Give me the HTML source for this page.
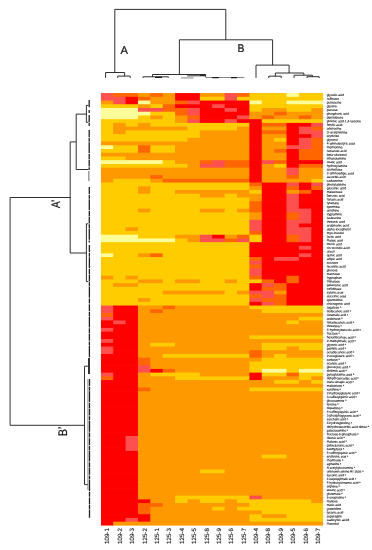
<!DOCTYPE html>
<html lang="en"><head><meta charset="utf-8"><title>Hierarchical clustering heatmap</title>
<style>html,body{margin:0;padding:0;background:#fff}body{width:372px;height:550px;overflow:hidden}svg{display:block}text{font-family:"Liberation Sans",sans-serif;text-rendering:geometricPrecision}</style></head><body>
<svg width="372" height="550" viewBox="0 0 372 550">
<rect width="372" height="550" fill="#fff"/>
<defs><clipPath id="hm"><rect x="100.8" y="93.1" width="222.20" height="432.33"/></clipPath></defs>
<g clip-path="url(#hm)">
<rect x="100.8" y="93.1" width="222.84" height="432.33" fill="#ff9900"/>
<rect x="100.80" y="93.10" width="12.98" height="4.33" fill="#ff5050"/>
<rect x="113.18" y="93.10" width="25.36" height="4.33" fill="#ff6600"/>
<rect x="137.94" y="93.10" width="12.98" height="4.33" fill="#ff9900"/>
<rect x="150.32" y="93.10" width="12.98" height="4.33" fill="#ff6600"/>
<rect x="162.70" y="93.10" width="12.98" height="4.33" fill="#ff9900"/>
<rect x="175.08" y="93.10" width="25.36" height="4.33" fill="#ff0000"/>
<rect x="199.84" y="93.10" width="25.36" height="4.33" fill="#ff9900"/>
<rect x="224.60" y="93.10" width="12.98" height="4.33" fill="#ff5050"/>
<rect x="236.98" y="93.10" width="12.98" height="4.33" fill="#ff6600"/>
<rect x="249.36" y="93.10" width="37.74" height="4.33" fill="#ffcc00"/>
<rect x="286.50" y="93.10" width="12.98" height="4.33" fill="#ffff99"/>
<rect x="298.88" y="93.10" width="25.36" height="4.33" fill="#ffcc00"/>
<rect x="100.80" y="96.83" width="25.36" height="4.33" fill="#ff5050"/>
<rect x="125.56" y="96.83" width="12.98" height="4.33" fill="#ff0000"/>
<rect x="137.94" y="96.83" width="12.98" height="4.33" fill="#ff6600"/>
<rect x="150.32" y="96.83" width="25.36" height="4.33" fill="#ff9900"/>
<rect x="175.08" y="96.83" width="25.36" height="4.33" fill="#ff0000"/>
<rect x="199.84" y="96.83" width="25.36" height="4.33" fill="#ffcc00"/>
<rect x="224.60" y="96.83" width="12.98" height="4.33" fill="#ff5050"/>
<rect x="236.98" y="96.83" width="87.26" height="4.33" fill="#ffcc00"/>
<rect x="100.80" y="100.55" width="12.98" height="4.33" fill="#ff9900"/>
<rect x="113.18" y="100.55" width="12.98" height="4.33" fill="#ff5050"/>
<rect x="125.56" y="100.55" width="12.98" height="4.33" fill="#ff0000"/>
<rect x="137.94" y="100.55" width="12.98" height="4.33" fill="#ffff99"/>
<rect x="150.32" y="100.55" width="25.36" height="4.33" fill="#ff9900"/>
<rect x="175.08" y="100.55" width="12.98" height="4.33" fill="#ff6600"/>
<rect x="187.46" y="100.55" width="12.98" height="4.33" fill="#ff5050"/>
<rect x="199.84" y="100.55" width="50.12" height="4.33" fill="#ff0000"/>
<rect x="249.36" y="100.55" width="12.98" height="4.33" fill="#ffff99"/>
<rect x="261.74" y="100.55" width="25.36" height="4.33" fill="#ffcc00"/>
<rect x="286.50" y="100.55" width="37.74" height="4.33" fill="#ffff99"/>
<rect x="100.80" y="104.28" width="37.74" height="4.33" fill="#ffcc00"/>
<rect x="137.94" y="104.28" width="12.98" height="4.33" fill="#ff9900"/>
<rect x="150.32" y="104.28" width="12.98" height="4.33" fill="#ffcc00"/>
<rect x="162.70" y="104.28" width="12.98" height="4.33" fill="#ff6600"/>
<rect x="175.08" y="104.28" width="37.74" height="4.33" fill="#ff0000"/>
<rect x="212.22" y="104.28" width="12.98" height="4.33" fill="#ff5050"/>
<rect x="224.60" y="104.28" width="25.36" height="4.33" fill="#ff0000"/>
<rect x="249.36" y="104.28" width="74.88" height="4.33" fill="#ffcc00"/>
<rect x="100.80" y="108.01" width="37.74" height="4.33" fill="#ffff99"/>
<rect x="137.94" y="108.01" width="25.36" height="4.33" fill="#ff5050"/>
<rect x="162.70" y="108.01" width="25.36" height="4.33" fill="#ff6600"/>
<rect x="187.46" y="108.01" width="12.98" height="4.33" fill="#ff5050"/>
<rect x="199.84" y="108.01" width="25.36" height="4.33" fill="#ff0000"/>
<rect x="224.60" y="108.01" width="12.98" height="4.33" fill="#ff5050"/>
<rect x="236.98" y="108.01" width="12.98" height="4.33" fill="#ff0000"/>
<rect x="249.36" y="108.01" width="12.98" height="4.33" fill="#ffcc00"/>
<rect x="261.74" y="108.01" width="25.36" height="4.33" fill="#ff9900"/>
<rect x="286.50" y="108.01" width="25.36" height="4.33" fill="#ffcc00"/>
<rect x="311.26" y="108.01" width="12.98" height="4.33" fill="#ff9900"/>
<rect x="100.80" y="111.73" width="50.12" height="4.33" fill="#ffff99"/>
<rect x="150.32" y="111.73" width="25.36" height="4.33" fill="#ffcc00"/>
<rect x="175.08" y="111.73" width="12.98" height="4.33" fill="#ff6600"/>
<rect x="187.46" y="111.73" width="12.98" height="4.33" fill="#ff5050"/>
<rect x="199.84" y="111.73" width="50.12" height="4.33" fill="#ff0000"/>
<rect x="249.36" y="111.73" width="25.36" height="4.33" fill="#ff9900"/>
<rect x="274.12" y="111.73" width="12.98" height="4.33" fill="#ff6600"/>
<rect x="286.50" y="111.73" width="37.74" height="4.33" fill="#ff9900"/>
<rect x="100.80" y="115.46" width="37.74" height="4.33" fill="#ffff99"/>
<rect x="137.94" y="115.46" width="12.98" height="4.33" fill="#ffcc00"/>
<rect x="150.32" y="115.46" width="12.98" height="4.33" fill="#ff9900"/>
<rect x="162.70" y="115.46" width="12.98" height="4.33" fill="#ffcc00"/>
<rect x="175.08" y="115.46" width="12.98" height="4.33" fill="#ff9900"/>
<rect x="187.46" y="115.46" width="12.98" height="4.33" fill="#ff6600"/>
<rect x="199.84" y="115.46" width="37.74" height="4.33" fill="#ff0000"/>
<rect x="236.98" y="115.46" width="12.98" height="4.33" fill="#ff5050"/>
<rect x="249.36" y="115.46" width="12.98" height="4.33" fill="#ff9900"/>
<rect x="261.74" y="115.46" width="12.98" height="4.33" fill="#ff6600"/>
<rect x="274.12" y="115.46" width="25.36" height="4.33" fill="#ff9900"/>
<rect x="298.88" y="115.46" width="12.98" height="4.33" fill="#ff6600"/>
<rect x="311.26" y="115.46" width="12.98" height="4.33" fill="#ff9900"/>
<rect x="100.80" y="119.19" width="74.88" height="4.33" fill="#ffcc00"/>
<rect x="175.08" y="119.19" width="12.98" height="4.33" fill="#ff9900"/>
<rect x="187.46" y="119.19" width="12.98" height="4.33" fill="#ff5050"/>
<rect x="199.84" y="119.19" width="25.36" height="4.33" fill="#ff0000"/>
<rect x="224.60" y="119.19" width="12.98" height="4.33" fill="#ff5050"/>
<rect x="236.98" y="119.19" width="25.36" height="4.33" fill="#ff0000"/>
<rect x="261.74" y="119.19" width="62.50" height="4.33" fill="#ffcc00"/>
<rect x="100.80" y="122.92" width="12.98" height="4.33" fill="#ffcc00"/>
<rect x="113.18" y="122.92" width="12.98" height="4.33" fill="#ff9900"/>
<rect x="125.56" y="122.92" width="12.98" height="4.33" fill="#ffcc00"/>
<rect x="137.94" y="122.92" width="12.98" height="4.33" fill="#ff9900"/>
<rect x="150.32" y="122.92" width="99.64" height="4.33" fill="#ffcc00"/>
<rect x="249.36" y="122.92" width="12.98" height="4.33" fill="#ff0000"/>
<rect x="261.74" y="122.92" width="25.36" height="4.33" fill="#ff6600"/>
<rect x="286.50" y="122.92" width="25.36" height="4.33" fill="#ff0000"/>
<rect x="311.26" y="122.92" width="12.98" height="4.33" fill="#ff5050"/>
<rect x="100.80" y="126.64" width="12.98" height="4.33" fill="#ffcc00"/>
<rect x="113.18" y="126.64" width="74.88" height="4.33" fill="#ff9900"/>
<rect x="187.46" y="126.64" width="50.12" height="4.33" fill="#ffcc00"/>
<rect x="236.98" y="126.64" width="12.98" height="4.33" fill="#ff9900"/>
<rect x="249.36" y="126.64" width="12.98" height="4.33" fill="#ff0000"/>
<rect x="261.74" y="126.64" width="25.36" height="4.33" fill="#ff9900"/>
<rect x="286.50" y="126.64" width="12.98" height="4.33" fill="#ff0000"/>
<rect x="298.88" y="126.64" width="12.98" height="4.33" fill="#ff5050"/>
<rect x="311.26" y="126.64" width="12.98" height="4.33" fill="#ff6600"/>
<rect x="100.80" y="130.37" width="12.98" height="4.33" fill="#ffcc00"/>
<rect x="113.18" y="130.37" width="12.98" height="4.33" fill="#ff9900"/>
<rect x="125.56" y="130.37" width="74.88" height="4.33" fill="#ffcc00"/>
<rect x="199.84" y="130.37" width="50.12" height="4.33" fill="#ff9900"/>
<rect x="249.36" y="130.37" width="12.98" height="4.33" fill="#ff0000"/>
<rect x="261.74" y="130.37" width="25.36" height="4.33" fill="#ff6600"/>
<rect x="286.50" y="130.37" width="12.98" height="4.33" fill="#ff0000"/>
<rect x="298.88" y="130.37" width="25.36" height="4.33" fill="#ff5050"/>
<rect x="100.80" y="134.10" width="99.64" height="4.33" fill="#ffcc00"/>
<rect x="199.84" y="134.10" width="50.12" height="4.33" fill="#ff9900"/>
<rect x="249.36" y="134.10" width="12.98" height="4.33" fill="#ff0000"/>
<rect x="261.74" y="134.10" width="25.36" height="4.33" fill="#ff9900"/>
<rect x="286.50" y="134.10" width="25.36" height="4.33" fill="#ff0000"/>
<rect x="311.26" y="134.10" width="12.98" height="4.33" fill="#ff5050"/>
<rect x="100.80" y="137.82" width="87.26" height="4.33" fill="#ffcc00"/>
<rect x="187.46" y="137.82" width="62.50" height="4.33" fill="#ff9900"/>
<rect x="249.36" y="137.82" width="12.98" height="4.33" fill="#ff0000"/>
<rect x="261.74" y="137.82" width="12.98" height="4.33" fill="#ff9900"/>
<rect x="274.12" y="137.82" width="12.98" height="4.33" fill="#ffcc00"/>
<rect x="286.50" y="137.82" width="12.98" height="4.33" fill="#ff0000"/>
<rect x="298.88" y="137.82" width="12.98" height="4.33" fill="#ff5050"/>
<rect x="311.26" y="137.82" width="12.98" height="4.33" fill="#ff6600"/>
<rect x="100.80" y="141.55" width="149.16" height="4.33" fill="#ff9900"/>
<rect x="249.36" y="141.55" width="12.98" height="4.33" fill="#ff0000"/>
<rect x="261.74" y="141.55" width="25.36" height="4.33" fill="#ff9900"/>
<rect x="286.50" y="141.55" width="12.98" height="4.33" fill="#ff0000"/>
<rect x="298.88" y="141.55" width="12.98" height="4.33" fill="#ff5050"/>
<rect x="311.26" y="141.55" width="12.98" height="4.33" fill="#ff6600"/>
<rect x="100.80" y="145.28" width="12.98" height="4.33" fill="#ffff99"/>
<rect x="113.18" y="145.28" width="25.36" height="4.33" fill="#ffcc00"/>
<rect x="137.94" y="145.28" width="12.98" height="4.33" fill="#ff6600"/>
<rect x="150.32" y="145.28" width="25.36" height="4.33" fill="#ffcc00"/>
<rect x="175.08" y="145.28" width="74.88" height="4.33" fill="#ff9900"/>
<rect x="249.36" y="145.28" width="12.98" height="4.33" fill="#ff0000"/>
<rect x="261.74" y="145.28" width="25.36" height="4.33" fill="#ff9900"/>
<rect x="286.50" y="145.28" width="25.36" height="4.33" fill="#ff5050"/>
<rect x="311.26" y="145.28" width="12.98" height="4.33" fill="#ff6600"/>
<rect x="100.80" y="149.00" width="37.74" height="4.33" fill="#ffcc00"/>
<rect x="137.94" y="149.00" width="12.98" height="4.33" fill="#ff6600"/>
<rect x="150.32" y="149.00" width="25.36" height="4.33" fill="#ffcc00"/>
<rect x="175.08" y="149.00" width="74.88" height="4.33" fill="#ff9900"/>
<rect x="249.36" y="149.00" width="12.98" height="4.33" fill="#ff0000"/>
<rect x="261.74" y="149.00" width="12.98" height="4.33" fill="#ff9900"/>
<rect x="274.12" y="149.00" width="12.98" height="4.33" fill="#ff6600"/>
<rect x="286.50" y="149.00" width="12.98" height="4.33" fill="#ff0000"/>
<rect x="298.88" y="149.00" width="25.36" height="4.33" fill="#ff6600"/>
<rect x="100.80" y="152.73" width="149.16" height="4.33" fill="#ff9900"/>
<rect x="249.36" y="152.73" width="12.98" height="4.33" fill="#ff0000"/>
<rect x="261.74" y="152.73" width="25.36" height="4.33" fill="#ff9900"/>
<rect x="286.50" y="152.73" width="12.98" height="4.33" fill="#ff0000"/>
<rect x="298.88" y="152.73" width="25.36" height="4.33" fill="#ff6600"/>
<rect x="100.80" y="156.46" width="25.36" height="4.33" fill="#ffcc00"/>
<rect x="125.56" y="156.46" width="124.40" height="4.33" fill="#ff9900"/>
<rect x="249.36" y="156.46" width="12.98" height="4.33" fill="#ff0000"/>
<rect x="261.74" y="156.46" width="25.36" height="4.33" fill="#ff9900"/>
<rect x="286.50" y="156.46" width="12.98" height="4.33" fill="#ff0000"/>
<rect x="298.88" y="156.46" width="25.36" height="4.33" fill="#ff6600"/>
<rect x="100.80" y="160.19" width="62.50" height="4.33" fill="#ffff99"/>
<rect x="162.70" y="160.19" width="12.98" height="4.33" fill="#ffcc00"/>
<rect x="175.08" y="160.19" width="25.36" height="4.33" fill="#ff9900"/>
<rect x="199.84" y="160.19" width="12.98" height="4.33" fill="#ff6600"/>
<rect x="212.22" y="160.19" width="12.98" height="4.33" fill="#ff5050"/>
<rect x="224.60" y="160.19" width="25.36" height="4.33" fill="#ff6600"/>
<rect x="249.36" y="160.19" width="12.98" height="4.33" fill="#ff0000"/>
<rect x="261.74" y="160.19" width="12.98" height="4.33" fill="#ff5050"/>
<rect x="274.12" y="160.19" width="12.98" height="4.33" fill="#ff6600"/>
<rect x="286.50" y="160.19" width="37.74" height="4.33" fill="#ff0000"/>
<rect x="100.80" y="163.91" width="87.26" height="4.33" fill="#ffcc00"/>
<rect x="187.46" y="163.91" width="12.98" height="4.33" fill="#ff9900"/>
<rect x="199.84" y="163.91" width="25.36" height="4.33" fill="#ff5050"/>
<rect x="224.60" y="163.91" width="25.36" height="4.33" fill="#ff6600"/>
<rect x="249.36" y="163.91" width="12.98" height="4.33" fill="#ff0000"/>
<rect x="261.74" y="163.91" width="12.98" height="4.33" fill="#ff9900"/>
<rect x="274.12" y="163.91" width="12.98" height="4.33" fill="#ffcc00"/>
<rect x="286.50" y="163.91" width="12.98" height="4.33" fill="#ff0000"/>
<rect x="298.88" y="163.91" width="25.36" height="4.33" fill="#ff6600"/>
<rect x="100.80" y="167.64" width="149.16" height="4.33" fill="#ff9900"/>
<rect x="249.36" y="167.64" width="12.98" height="4.33" fill="#ff0000"/>
<rect x="261.74" y="167.64" width="25.36" height="4.33" fill="#ff9900"/>
<rect x="286.50" y="167.64" width="12.98" height="4.33" fill="#ff5050"/>
<rect x="298.88" y="167.64" width="25.36" height="4.33" fill="#ff9900"/>
<rect x="100.80" y="171.37" width="149.16" height="4.33" fill="#ff9900"/>
<rect x="249.36" y="171.37" width="12.98" height="4.33" fill="#ff0000"/>
<rect x="261.74" y="171.37" width="25.36" height="4.33" fill="#ff9900"/>
<rect x="286.50" y="171.37" width="12.98" height="4.33" fill="#ff5050"/>
<rect x="298.88" y="171.37" width="25.36" height="4.33" fill="#ff9900"/>
<rect x="100.80" y="175.09" width="50.12" height="4.33" fill="#ff9900"/>
<rect x="150.32" y="175.09" width="12.98" height="4.33" fill="#ff6600"/>
<rect x="162.70" y="175.09" width="87.26" height="4.33" fill="#ff9900"/>
<rect x="249.36" y="175.09" width="12.98" height="4.33" fill="#ff0000"/>
<rect x="261.74" y="175.09" width="25.36" height="4.33" fill="#ff9900"/>
<rect x="286.50" y="175.09" width="12.98" height="4.33" fill="#ff6600"/>
<rect x="298.88" y="175.09" width="25.36" height="4.33" fill="#ff9900"/>
<rect x="100.80" y="178.82" width="12.98" height="4.33" fill="#ff9900"/>
<rect x="113.18" y="178.82" width="37.74" height="4.33" fill="#ffcc00"/>
<rect x="150.32" y="178.82" width="12.98" height="4.33" fill="#ff9900"/>
<rect x="162.70" y="178.82" width="87.26" height="4.33" fill="#ff6600"/>
<rect x="249.36" y="178.82" width="12.98" height="4.33" fill="#ff0000"/>
<rect x="261.74" y="178.82" width="50.12" height="4.33" fill="#ff9900"/>
<rect x="311.26" y="178.82" width="12.98" height="4.33" fill="#ffcc00"/>
<rect x="100.80" y="182.55" width="149.16" height="4.33" fill="#ffcc00"/>
<rect x="249.36" y="182.55" width="12.98" height="4.33" fill="#ff6600"/>
<rect x="261.74" y="182.55" width="25.36" height="4.33" fill="#ff0000"/>
<rect x="286.50" y="182.55" width="12.98" height="4.33" fill="#ff5050"/>
<rect x="298.88" y="182.55" width="12.98" height="4.33" fill="#ff0000"/>
<rect x="311.26" y="182.55" width="12.98" height="4.33" fill="#ff5050"/>
<rect x="100.80" y="186.27" width="37.74" height="4.33" fill="#ffcc00"/>
<rect x="137.94" y="186.27" width="12.98" height="4.33" fill="#ff9900"/>
<rect x="150.32" y="186.27" width="99.64" height="4.33" fill="#ffcc00"/>
<rect x="249.36" y="186.27" width="12.98" height="4.33" fill="#ff9900"/>
<rect x="261.74" y="186.27" width="25.36" height="4.33" fill="#ff0000"/>
<rect x="286.50" y="186.27" width="12.98" height="4.33" fill="#ff6600"/>
<rect x="298.88" y="186.27" width="12.98" height="4.33" fill="#ff0000"/>
<rect x="311.26" y="186.27" width="12.98" height="4.33" fill="#ff6600"/>
<rect x="100.80" y="190.00" width="37.74" height="4.33" fill="#ffcc00"/>
<rect x="137.94" y="190.00" width="12.98" height="4.33" fill="#ff9900"/>
<rect x="150.32" y="190.00" width="25.36" height="4.33" fill="#ffcc00"/>
<rect x="175.08" y="190.00" width="74.88" height="4.33" fill="#ff9900"/>
<rect x="249.36" y="190.00" width="12.98" height="4.33" fill="#ffcc00"/>
<rect x="261.74" y="190.00" width="25.36" height="4.33" fill="#ff0000"/>
<rect x="286.50" y="190.00" width="12.98" height="4.33" fill="#ff9900"/>
<rect x="298.88" y="190.00" width="12.98" height="4.33" fill="#ff6600"/>
<rect x="311.26" y="190.00" width="12.98" height="4.33" fill="#ff0000"/>
<rect x="100.80" y="193.73" width="99.64" height="4.33" fill="#ffcc00"/>
<rect x="199.84" y="193.73" width="25.36" height="4.33" fill="#ff9900"/>
<rect x="224.60" y="193.73" width="12.98" height="4.33" fill="#ffcc00"/>
<rect x="236.98" y="193.73" width="25.36" height="4.33" fill="#ff9900"/>
<rect x="261.74" y="193.73" width="25.36" height="4.33" fill="#ff0000"/>
<rect x="286.50" y="193.73" width="12.98" height="4.33" fill="#ff5050"/>
<rect x="298.88" y="193.73" width="25.36" height="4.33" fill="#ff0000"/>
<rect x="100.80" y="197.46" width="149.16" height="4.33" fill="#ffcc00"/>
<rect x="249.36" y="197.46" width="12.98" height="4.33" fill="#ff9900"/>
<rect x="261.74" y="197.46" width="25.36" height="4.33" fill="#ff0000"/>
<rect x="286.50" y="197.46" width="12.98" height="4.33" fill="#ff5050"/>
<rect x="298.88" y="197.46" width="25.36" height="4.33" fill="#ff0000"/>
<rect x="100.80" y="201.18" width="149.16" height="4.33" fill="#ffcc00"/>
<rect x="249.36" y="201.18" width="12.98" height="4.33" fill="#ff6600"/>
<rect x="261.74" y="201.18" width="25.36" height="4.33" fill="#ff0000"/>
<rect x="286.50" y="201.18" width="12.98" height="4.33" fill="#ff5050"/>
<rect x="298.88" y="201.18" width="25.36" height="4.33" fill="#ff0000"/>
<rect x="100.80" y="204.91" width="149.16" height="4.33" fill="#ffcc00"/>
<rect x="249.36" y="204.91" width="12.98" height="4.33" fill="#ff6600"/>
<rect x="261.74" y="204.91" width="25.36" height="4.33" fill="#ff0000"/>
<rect x="286.50" y="204.91" width="12.98" height="4.33" fill="#ff5050"/>
<rect x="298.88" y="204.91" width="25.36" height="4.33" fill="#ff0000"/>
<rect x="100.80" y="208.64" width="37.74" height="4.33" fill="#ffcc00"/>
<rect x="137.94" y="208.64" width="12.98" height="4.33" fill="#ff9900"/>
<rect x="150.32" y="208.64" width="50.12" height="4.33" fill="#ffcc00"/>
<rect x="199.84" y="208.64" width="25.36" height="4.33" fill="#ff9900"/>
<rect x="224.60" y="208.64" width="12.98" height="4.33" fill="#ffcc00"/>
<rect x="236.98" y="208.64" width="12.98" height="4.33" fill="#ff9900"/>
<rect x="249.36" y="208.64" width="12.98" height="4.33" fill="#ff6600"/>
<rect x="261.74" y="208.64" width="25.36" height="4.33" fill="#ff0000"/>
<rect x="286.50" y="208.64" width="25.36" height="4.33" fill="#ff5050"/>
<rect x="311.26" y="208.64" width="12.98" height="4.33" fill="#ff0000"/>
<rect x="100.80" y="212.36" width="149.16" height="4.33" fill="#ffcc00"/>
<rect x="249.36" y="212.36" width="12.98" height="4.33" fill="#ff9900"/>
<rect x="261.74" y="212.36" width="25.36" height="4.33" fill="#ff0000"/>
<rect x="286.50" y="212.36" width="12.98" height="4.33" fill="#ff6600"/>
<rect x="298.88" y="212.36" width="12.98" height="4.33" fill="#ff5050"/>
<rect x="311.26" y="212.36" width="12.98" height="4.33" fill="#ff0000"/>
<rect x="100.80" y="216.09" width="149.16" height="4.33" fill="#ffcc00"/>
<rect x="249.36" y="216.09" width="12.98" height="4.33" fill="#ff9900"/>
<rect x="261.74" y="216.09" width="25.36" height="4.33" fill="#ff0000"/>
<rect x="286.50" y="216.09" width="12.98" height="4.33" fill="#ff6600"/>
<rect x="298.88" y="216.09" width="12.98" height="4.33" fill="#ff5050"/>
<rect x="311.26" y="216.09" width="12.98" height="4.33" fill="#ff0000"/>
<rect x="100.80" y="219.82" width="149.16" height="4.33" fill="#ffcc00"/>
<rect x="249.36" y="219.82" width="12.98" height="4.33" fill="#ff5050"/>
<rect x="261.74" y="219.82" width="25.36" height="4.33" fill="#ff0000"/>
<rect x="286.50" y="219.82" width="25.36" height="4.33" fill="#ff5050"/>
<rect x="311.26" y="219.82" width="12.98" height="4.33" fill="#ff0000"/>
<rect x="100.80" y="223.54" width="149.16" height="4.33" fill="#ffcc00"/>
<rect x="249.36" y="223.54" width="12.98" height="4.33" fill="#ff5050"/>
<rect x="261.74" y="223.54" width="25.36" height="4.33" fill="#ff0000"/>
<rect x="286.50" y="223.54" width="12.98" height="4.33" fill="#ff5050"/>
<rect x="298.88" y="223.54" width="25.36" height="4.33" fill="#ff0000"/>
<rect x="100.80" y="227.27" width="25.36" height="4.33" fill="#ffcc00"/>
<rect x="125.56" y="227.27" width="12.98" height="4.33" fill="#ff9900"/>
<rect x="137.94" y="227.27" width="112.02" height="4.33" fill="#ffcc00"/>
<rect x="249.36" y="227.27" width="12.98" height="4.33" fill="#ff5050"/>
<rect x="261.74" y="227.27" width="25.36" height="4.33" fill="#ff0000"/>
<rect x="286.50" y="227.27" width="25.36" height="4.33" fill="#ff5050"/>
<rect x="311.26" y="227.27" width="12.98" height="4.33" fill="#ff0000"/>
<rect x="100.80" y="231.00" width="149.16" height="4.33" fill="#ffcc00"/>
<rect x="249.36" y="231.00" width="12.98" height="4.33" fill="#ff6600"/>
<rect x="261.74" y="231.00" width="25.36" height="4.33" fill="#ff0000"/>
<rect x="286.50" y="231.00" width="25.36" height="4.33" fill="#ff5050"/>
<rect x="311.26" y="231.00" width="12.98" height="4.33" fill="#ff0000"/>
<rect x="100.80" y="234.73" width="37.74" height="4.33" fill="#ffff99"/>
<rect x="137.94" y="234.73" width="37.74" height="4.33" fill="#ffcc00"/>
<rect x="175.08" y="234.73" width="25.36" height="4.33" fill="#ff9900"/>
<rect x="199.84" y="234.73" width="12.98" height="4.33" fill="#ff5050"/>
<rect x="212.22" y="234.73" width="12.98" height="4.33" fill="#ff0000"/>
<rect x="224.60" y="234.73" width="12.98" height="4.33" fill="#ff9900"/>
<rect x="236.98" y="234.73" width="12.98" height="4.33" fill="#ff6600"/>
<rect x="249.36" y="234.73" width="12.98" height="4.33" fill="#ffcc00"/>
<rect x="261.74" y="234.73" width="25.36" height="4.33" fill="#ff0000"/>
<rect x="286.50" y="234.73" width="12.98" height="4.33" fill="#ff6600"/>
<rect x="298.88" y="234.73" width="12.98" height="4.33" fill="#ff5050"/>
<rect x="311.26" y="234.73" width="12.98" height="4.33" fill="#ff0000"/>
<rect x="100.80" y="238.45" width="74.88" height="4.33" fill="#ffff99"/>
<rect x="175.08" y="238.45" width="12.98" height="4.33" fill="#ffcc00"/>
<rect x="187.46" y="238.45" width="12.98" height="4.33" fill="#ff9900"/>
<rect x="199.84" y="238.45" width="25.36" height="4.33" fill="#ff5050"/>
<rect x="224.60" y="238.45" width="12.98" height="4.33" fill="#ff6600"/>
<rect x="236.98" y="238.45" width="12.98" height="4.33" fill="#ff5050"/>
<rect x="249.36" y="238.45" width="12.98" height="4.33" fill="#ffcc00"/>
<rect x="261.74" y="238.45" width="25.36" height="4.33" fill="#ff0000"/>
<rect x="286.50" y="238.45" width="12.98" height="4.33" fill="#ff6600"/>
<rect x="298.88" y="238.45" width="12.98" height="4.33" fill="#ff5050"/>
<rect x="311.26" y="238.45" width="12.98" height="4.33" fill="#ff0000"/>
<rect x="100.80" y="242.18" width="149.16" height="4.33" fill="#ffcc00"/>
<rect x="249.36" y="242.18" width="74.88" height="4.33" fill="#ff0000"/>
<rect x="100.80" y="245.91" width="149.16" height="4.33" fill="#ffcc00"/>
<rect x="249.36" y="245.91" width="50.12" height="4.33" fill="#ff0000"/>
<rect x="298.88" y="245.91" width="12.98" height="4.33" fill="#ff5050"/>
<rect x="311.26" y="245.91" width="12.98" height="4.33" fill="#ff0000"/>
<rect x="100.80" y="249.63" width="149.16" height="4.33" fill="#ffcc00"/>
<rect x="249.36" y="249.63" width="74.88" height="4.33" fill="#ff0000"/>
<rect x="100.80" y="253.36" width="12.98" height="4.33" fill="#ffff99"/>
<rect x="113.18" y="253.36" width="25.36" height="4.33" fill="#ffcc00"/>
<rect x="137.94" y="253.36" width="12.98" height="4.33" fill="#ff9900"/>
<rect x="150.32" y="253.36" width="12.98" height="4.33" fill="#ff6600"/>
<rect x="162.70" y="253.36" width="87.26" height="4.33" fill="#ffcc00"/>
<rect x="249.36" y="253.36" width="50.12" height="4.33" fill="#ff0000"/>
<rect x="298.88" y="253.36" width="12.98" height="4.33" fill="#ff5050"/>
<rect x="311.26" y="253.36" width="12.98" height="4.33" fill="#ff0000"/>
<rect x="100.80" y="257.09" width="149.16" height="4.33" fill="#ffcc00"/>
<rect x="249.36" y="257.09" width="12.98" height="4.33" fill="#ff6600"/>
<rect x="261.74" y="257.09" width="12.98" height="4.33" fill="#ff0000"/>
<rect x="274.12" y="257.09" width="25.36" height="4.33" fill="#ff5050"/>
<rect x="298.88" y="257.09" width="25.36" height="4.33" fill="#ff0000"/>
<rect x="100.80" y="260.81" width="149.16" height="4.33" fill="#ffcc00"/>
<rect x="249.36" y="260.81" width="12.98" height="4.33" fill="#ff5050"/>
<rect x="261.74" y="260.81" width="62.50" height="4.33" fill="#ff0000"/>
<rect x="100.80" y="264.54" width="149.16" height="4.33" fill="#ffcc00"/>
<rect x="249.36" y="264.54" width="12.98" height="4.33" fill="#ff6600"/>
<rect x="261.74" y="264.54" width="62.50" height="4.33" fill="#ff0000"/>
<rect x="100.80" y="268.27" width="149.16" height="4.33" fill="#ffcc00"/>
<rect x="249.36" y="268.27" width="12.98" height="4.33" fill="#ff5050"/>
<rect x="261.74" y="268.27" width="62.50" height="4.33" fill="#ff0000"/>
<rect x="100.80" y="272.00" width="149.16" height="4.33" fill="#ffcc00"/>
<rect x="249.36" y="272.00" width="12.98" height="4.33" fill="#ff5050"/>
<rect x="261.74" y="272.00" width="62.50" height="4.33" fill="#ff0000"/>
<rect x="100.80" y="275.72" width="12.98" height="4.33" fill="#ff9900"/>
<rect x="113.18" y="275.72" width="12.98" height="4.33" fill="#ffcc00"/>
<rect x="125.56" y="275.72" width="12.98" height="4.33" fill="#ff9900"/>
<rect x="137.94" y="275.72" width="112.02" height="4.33" fill="#ffcc00"/>
<rect x="249.36" y="275.72" width="12.98" height="4.33" fill="#ff6600"/>
<rect x="261.74" y="275.72" width="25.36" height="4.33" fill="#ff0000"/>
<rect x="286.50" y="275.72" width="12.98" height="4.33" fill="#ff6600"/>
<rect x="298.88" y="275.72" width="25.36" height="4.33" fill="#ff0000"/>
<rect x="100.80" y="279.45" width="37.74" height="4.33" fill="#ffcc00"/>
<rect x="137.94" y="279.45" width="25.36" height="4.33" fill="#ff9900"/>
<rect x="162.70" y="279.45" width="12.98" height="4.33" fill="#ffcc00"/>
<rect x="175.08" y="279.45" width="25.36" height="4.33" fill="#ff9900"/>
<rect x="199.84" y="279.45" width="25.36" height="4.33" fill="#ffcc00"/>
<rect x="224.60" y="279.45" width="12.98" height="4.33" fill="#ff9900"/>
<rect x="236.98" y="279.45" width="25.36" height="4.33" fill="#ffcc00"/>
<rect x="261.74" y="279.45" width="12.98" height="4.33" fill="#ff6600"/>
<rect x="274.12" y="279.45" width="12.98" height="4.33" fill="#ff0000"/>
<rect x="286.50" y="279.45" width="12.98" height="4.33" fill="#ff6600"/>
<rect x="298.88" y="279.45" width="25.36" height="4.33" fill="#ff0000"/>
<rect x="100.80" y="283.18" width="12.98" height="4.33" fill="#ffcc00"/>
<rect x="113.18" y="283.18" width="25.36" height="4.33" fill="#ff9900"/>
<rect x="137.94" y="283.18" width="112.02" height="4.33" fill="#ffcc00"/>
<rect x="249.36" y="283.18" width="12.98" height="4.33" fill="#ff0000"/>
<rect x="261.74" y="283.18" width="12.98" height="4.33" fill="#ff5050"/>
<rect x="274.12" y="283.18" width="12.98" height="4.33" fill="#ff6600"/>
<rect x="286.50" y="283.18" width="37.74" height="4.33" fill="#ff0000"/>
<rect x="100.80" y="286.90" width="149.16" height="4.33" fill="#ffcc00"/>
<rect x="249.36" y="286.90" width="12.98" height="4.33" fill="#ff0000"/>
<rect x="261.74" y="286.90" width="25.36" height="4.33" fill="#ff6600"/>
<rect x="286.50" y="286.90" width="37.74" height="4.33" fill="#ff0000"/>
<rect x="100.80" y="290.63" width="62.50" height="4.33" fill="#ffcc00"/>
<rect x="162.70" y="290.63" width="62.50" height="4.33" fill="#ff9900"/>
<rect x="224.60" y="290.63" width="12.98" height="4.33" fill="#ffcc00"/>
<rect x="236.98" y="290.63" width="12.98" height="4.33" fill="#ff9900"/>
<rect x="249.36" y="290.63" width="25.36" height="4.33" fill="#ff5050"/>
<rect x="274.12" y="290.63" width="12.98" height="4.33" fill="#ff9900"/>
<rect x="286.50" y="290.63" width="37.74" height="4.33" fill="#ff0000"/>
<rect x="100.80" y="294.36" width="149.16" height="4.33" fill="#ffcc00"/>
<rect x="249.36" y="294.36" width="12.98" height="4.33" fill="#ff6600"/>
<rect x="261.74" y="294.36" width="12.98" height="4.33" fill="#ff5050"/>
<rect x="274.12" y="294.36" width="12.98" height="4.33" fill="#ff6600"/>
<rect x="286.50" y="294.36" width="37.74" height="4.33" fill="#ff0000"/>
<rect x="100.80" y="298.08" width="37.74" height="4.33" fill="#ffcc00"/>
<rect x="137.94" y="298.08" width="12.98" height="4.33" fill="#ff9900"/>
<rect x="150.32" y="298.08" width="99.64" height="4.33" fill="#ffcc00"/>
<rect x="249.36" y="298.08" width="12.98" height="4.33" fill="#ff5050"/>
<rect x="261.74" y="298.08" width="25.36" height="4.33" fill="#ff6600"/>
<rect x="286.50" y="298.08" width="37.74" height="4.33" fill="#ff0000"/>
<rect x="100.80" y="301.81" width="149.16" height="4.33" fill="#ffcc00"/>
<rect x="249.36" y="301.81" width="12.98" height="4.33" fill="#ff0000"/>
<rect x="261.74" y="301.81" width="12.98" height="4.33" fill="#ff5050"/>
<rect x="274.12" y="301.81" width="12.98" height="4.33" fill="#ff6600"/>
<rect x="286.50" y="301.81" width="37.74" height="4.33" fill="#ff0000"/>
<rect x="100.80" y="305.54" width="12.98" height="4.33" fill="#ff5050"/>
<rect x="113.18" y="305.54" width="25.36" height="4.33" fill="#ff0000"/>
<rect x="137.94" y="305.54" width="25.36" height="4.33" fill="#ff9900"/>
<rect x="162.70" y="305.54" width="12.98" height="4.33" fill="#ff6600"/>
<rect x="175.08" y="305.54" width="74.88" height="4.33" fill="#ff9900"/>
<rect x="249.36" y="305.54" width="74.88" height="4.33" fill="#ffcc00"/>
<rect x="100.80" y="309.27" width="12.98" height="4.33" fill="#ff5050"/>
<rect x="113.18" y="309.27" width="25.36" height="4.33" fill="#ff0000"/>
<rect x="137.94" y="309.27" width="12.98" height="4.33" fill="#ff9900"/>
<rect x="150.32" y="309.27" width="12.98" height="4.33" fill="#ff6600"/>
<rect x="162.70" y="309.27" width="99.64" height="4.33" fill="#ff9900"/>
<rect x="261.74" y="309.27" width="62.50" height="4.33" fill="#ffcc00"/>
<rect x="100.80" y="312.99" width="12.98" height="4.33" fill="#ff6600"/>
<rect x="113.18" y="312.99" width="25.36" height="4.33" fill="#ff0000"/>
<rect x="137.94" y="312.99" width="186.30" height="4.33" fill="#ff9900"/>
<rect x="100.80" y="316.72" width="12.98" height="4.33" fill="#ff5050"/>
<rect x="113.18" y="316.72" width="25.36" height="4.33" fill="#ff0000"/>
<rect x="137.94" y="316.72" width="161.54" height="4.33" fill="#ff9900"/>
<rect x="298.88" y="316.72" width="25.36" height="4.33" fill="#ffcc00"/>
<rect x="100.80" y="320.45" width="12.98" height="4.33" fill="#ff0000"/>
<rect x="113.18" y="320.45" width="12.98" height="4.33" fill="#ff5050"/>
<rect x="125.56" y="320.45" width="12.98" height="4.33" fill="#ff0000"/>
<rect x="137.94" y="320.45" width="149.16" height="4.33" fill="#ff9900"/>
<rect x="286.50" y="320.45" width="12.98" height="4.33" fill="#ffcc00"/>
<rect x="298.88" y="320.45" width="25.36" height="4.33" fill="#ff9900"/>
<rect x="100.80" y="324.17" width="37.74" height="4.33" fill="#ff0000"/>
<rect x="137.94" y="324.17" width="186.30" height="4.33" fill="#ff9900"/>
<rect x="100.80" y="327.90" width="12.98" height="4.33" fill="#ff5050"/>
<rect x="113.18" y="327.90" width="25.36" height="4.33" fill="#ff0000"/>
<rect x="137.94" y="327.90" width="186.30" height="4.33" fill="#ff9900"/>
<rect x="100.80" y="331.63" width="37.74" height="4.33" fill="#ff0000"/>
<rect x="137.94" y="331.63" width="186.30" height="4.33" fill="#ff9900"/>
<rect x="100.80" y="335.36" width="37.74" height="4.33" fill="#ff0000"/>
<rect x="137.94" y="335.36" width="112.02" height="4.33" fill="#ff9900"/>
<rect x="249.36" y="335.36" width="74.88" height="4.33" fill="#ffcc00"/>
<rect x="100.80" y="339.08" width="12.98" height="4.33" fill="#ff5050"/>
<rect x="113.18" y="339.08" width="25.36" height="4.33" fill="#ff0000"/>
<rect x="137.94" y="339.08" width="186.30" height="4.33" fill="#ff9900"/>
<rect x="100.80" y="342.81" width="37.74" height="4.33" fill="#ff0000"/>
<rect x="137.94" y="342.81" width="12.98" height="4.33" fill="#ff9900"/>
<rect x="150.32" y="342.81" width="25.36" height="4.33" fill="#ffcc00"/>
<rect x="175.08" y="342.81" width="87.26" height="4.33" fill="#ff9900"/>
<rect x="261.74" y="342.81" width="62.50" height="4.33" fill="#ffcc00"/>
<rect x="100.80" y="346.54" width="12.98" height="4.33" fill="#ff5050"/>
<rect x="113.18" y="346.54" width="25.36" height="4.33" fill="#ff0000"/>
<rect x="137.94" y="346.54" width="124.40" height="4.33" fill="#ff9900"/>
<rect x="261.74" y="346.54" width="25.36" height="4.33" fill="#ffcc00"/>
<rect x="286.50" y="346.54" width="12.98" height="4.33" fill="#ff9900"/>
<rect x="298.88" y="346.54" width="25.36" height="4.33" fill="#ffcc00"/>
<rect x="100.80" y="350.26" width="12.98" height="4.33" fill="#ff5050"/>
<rect x="113.18" y="350.26" width="25.36" height="4.33" fill="#ff0000"/>
<rect x="137.94" y="350.26" width="112.02" height="4.33" fill="#ff9900"/>
<rect x="249.36" y="350.26" width="12.98" height="4.33" fill="#ff6600"/>
<rect x="261.74" y="350.26" width="62.50" height="4.33" fill="#ff9900"/>
<rect x="100.80" y="353.99" width="37.74" height="4.33" fill="#ff0000"/>
<rect x="137.94" y="353.99" width="25.36" height="4.33" fill="#ff9900"/>
<rect x="162.70" y="353.99" width="87.26" height="4.33" fill="#ffcc00"/>
<rect x="249.36" y="353.99" width="12.98" height="4.33" fill="#ff6600"/>
<rect x="261.74" y="353.99" width="12.98" height="4.33" fill="#ff9900"/>
<rect x="274.12" y="353.99" width="12.98" height="4.33" fill="#ffcc00"/>
<rect x="286.50" y="353.99" width="37.74" height="4.33" fill="#ff9900"/>
<rect x="100.80" y="357.72" width="37.74" height="4.33" fill="#ff0000"/>
<rect x="137.94" y="357.72" width="12.98" height="4.33" fill="#ff6600"/>
<rect x="150.32" y="357.72" width="112.02" height="4.33" fill="#ff9900"/>
<rect x="261.74" y="357.72" width="62.50" height="4.33" fill="#ffcc00"/>
<rect x="100.80" y="361.44" width="37.74" height="4.33" fill="#ff0000"/>
<rect x="137.94" y="361.44" width="12.98" height="4.33" fill="#ff6600"/>
<rect x="150.32" y="361.44" width="99.64" height="4.33" fill="#ff9900"/>
<rect x="249.36" y="361.44" width="74.88" height="4.33" fill="#ffcc00"/>
<rect x="100.80" y="365.17" width="37.74" height="4.33" fill="#ff0000"/>
<rect x="137.94" y="365.17" width="12.98" height="4.33" fill="#ff5050"/>
<rect x="150.32" y="365.17" width="99.64" height="4.33" fill="#ff9900"/>
<rect x="249.36" y="365.17" width="74.88" height="4.33" fill="#ffcc00"/>
<rect x="100.80" y="368.90" width="37.74" height="4.33" fill="#ff0000"/>
<rect x="137.94" y="368.90" width="12.98" height="4.33" fill="#ff5050"/>
<rect x="150.32" y="368.90" width="12.98" height="4.33" fill="#ff0000"/>
<rect x="162.70" y="368.90" width="12.98" height="4.33" fill="#ff6600"/>
<rect x="175.08" y="368.90" width="74.88" height="4.33" fill="#ff9900"/>
<rect x="249.36" y="368.90" width="12.98" height="4.33" fill="#ffcc00"/>
<rect x="261.74" y="368.90" width="25.36" height="4.33" fill="#ffff99"/>
<rect x="286.50" y="368.90" width="12.98" height="4.33" fill="#ffcc00"/>
<rect x="298.88" y="368.90" width="25.36" height="4.33" fill="#ffff99"/>
<rect x="100.80" y="372.62" width="12.98" height="4.33" fill="#ff5050"/>
<rect x="113.18" y="372.62" width="25.36" height="4.33" fill="#ff0000"/>
<rect x="137.94" y="372.62" width="12.98" height="4.33" fill="#ff9900"/>
<rect x="150.32" y="372.62" width="50.12" height="4.33" fill="#ffcc00"/>
<rect x="199.84" y="372.62" width="50.12" height="4.33" fill="#ff9900"/>
<rect x="249.36" y="372.62" width="12.98" height="4.33" fill="#ff0000"/>
<rect x="261.74" y="372.62" width="25.36" height="4.33" fill="#ffcc00"/>
<rect x="286.50" y="372.62" width="12.98" height="4.33" fill="#ff6600"/>
<rect x="298.88" y="372.62" width="25.36" height="4.33" fill="#ffcc00"/>
<rect x="100.80" y="376.35" width="12.98" height="4.33" fill="#ff6600"/>
<rect x="113.18" y="376.35" width="25.36" height="4.33" fill="#ff0000"/>
<rect x="137.94" y="376.35" width="37.74" height="4.33" fill="#ff9900"/>
<rect x="175.08" y="376.35" width="74.88" height="4.33" fill="#ffcc00"/>
<rect x="249.36" y="376.35" width="12.98" height="4.33" fill="#ff0000"/>
<rect x="261.74" y="376.35" width="37.74" height="4.33" fill="#ff9900"/>
<rect x="298.88" y="376.35" width="12.98" height="4.33" fill="#ffcc00"/>
<rect x="311.26" y="376.35" width="12.98" height="4.33" fill="#ff9900"/>
<rect x="100.80" y="380.08" width="37.74" height="4.33" fill="#ff0000"/>
<rect x="137.94" y="380.08" width="136.78" height="4.33" fill="#ff9900"/>
<rect x="274.12" y="380.08" width="25.36" height="4.33" fill="#ffcc00"/>
<rect x="298.88" y="380.08" width="12.98" height="4.33" fill="#ff9900"/>
<rect x="311.26" y="380.08" width="12.98" height="4.33" fill="#ffcc00"/>
<rect x="100.80" y="383.81" width="37.74" height="4.33" fill="#ff0000"/>
<rect x="137.94" y="383.81" width="186.30" height="4.33" fill="#ff9900"/>
<rect x="100.80" y="387.53" width="37.74" height="4.33" fill="#ff0000"/>
<rect x="137.94" y="387.53" width="12.98" height="4.33" fill="#ff6600"/>
<rect x="150.32" y="387.53" width="99.64" height="4.33" fill="#ff9900"/>
<rect x="249.36" y="387.53" width="74.88" height="4.33" fill="#ffcc00"/>
<rect x="100.80" y="391.26" width="37.74" height="4.33" fill="#ff0000"/>
<rect x="137.94" y="391.26" width="186.30" height="4.33" fill="#ff9900"/>
<rect x="100.80" y="394.99" width="37.74" height="4.33" fill="#ff0000"/>
<rect x="137.94" y="394.99" width="186.30" height="4.33" fill="#ff9900"/>
<rect x="100.80" y="398.71" width="37.74" height="4.33" fill="#ff0000"/>
<rect x="137.94" y="398.71" width="186.30" height="4.33" fill="#ff9900"/>
<rect x="100.80" y="402.44" width="37.74" height="4.33" fill="#ff0000"/>
<rect x="137.94" y="402.44" width="186.30" height="4.33" fill="#ff9900"/>
<rect x="100.80" y="406.17" width="37.74" height="4.33" fill="#ff0000"/>
<rect x="137.94" y="406.17" width="186.30" height="4.33" fill="#ff9900"/>
<rect x="100.80" y="409.89" width="37.74" height="4.33" fill="#ff0000"/>
<rect x="137.94" y="409.89" width="186.30" height="4.33" fill="#ff9900"/>
<rect x="100.80" y="413.62" width="37.74" height="4.33" fill="#ff0000"/>
<rect x="137.94" y="413.62" width="186.30" height="4.33" fill="#ff9900"/>
<rect x="100.80" y="417.35" width="37.74" height="4.33" fill="#ff0000"/>
<rect x="137.94" y="417.35" width="186.30" height="4.33" fill="#ff9900"/>
<rect x="100.80" y="421.08" width="37.74" height="4.33" fill="#ff0000"/>
<rect x="137.94" y="421.08" width="186.30" height="4.33" fill="#ff9900"/>
<rect x="100.80" y="424.80" width="37.74" height="4.33" fill="#ff0000"/>
<rect x="137.94" y="424.80" width="186.30" height="4.33" fill="#ff9900"/>
<rect x="100.80" y="428.53" width="37.74" height="4.33" fill="#ff0000"/>
<rect x="137.94" y="428.53" width="186.30" height="4.33" fill="#ff9900"/>
<rect x="100.80" y="432.26" width="37.74" height="4.33" fill="#ff0000"/>
<rect x="137.94" y="432.26" width="186.30" height="4.33" fill="#ff9900"/>
<rect x="100.80" y="435.98" width="25.36" height="4.33" fill="#ff0000"/>
<rect x="125.56" y="435.98" width="12.98" height="4.33" fill="#ff5050"/>
<rect x="137.94" y="435.98" width="186.30" height="4.33" fill="#ff9900"/>
<rect x="100.80" y="439.71" width="25.36" height="4.33" fill="#ff0000"/>
<rect x="125.56" y="439.71" width="12.98" height="4.33" fill="#ff5050"/>
<rect x="137.94" y="439.71" width="186.30" height="4.33" fill="#ff9900"/>
<rect x="100.80" y="443.44" width="25.36" height="4.33" fill="#ff0000"/>
<rect x="125.56" y="443.44" width="12.98" height="4.33" fill="#ff5050"/>
<rect x="137.94" y="443.44" width="186.30" height="4.33" fill="#ff9900"/>
<rect x="100.80" y="447.16" width="25.36" height="4.33" fill="#ff0000"/>
<rect x="125.56" y="447.16" width="12.98" height="4.33" fill="#ff5050"/>
<rect x="137.94" y="447.16" width="186.30" height="4.33" fill="#ff9900"/>
<rect x="100.80" y="450.89" width="37.74" height="4.33" fill="#ff0000"/>
<rect x="137.94" y="450.89" width="186.30" height="4.33" fill="#ff9900"/>
<rect x="100.80" y="454.62" width="37.74" height="4.33" fill="#ff0000"/>
<rect x="137.94" y="454.62" width="124.40" height="4.33" fill="#ff9900"/>
<rect x="261.74" y="454.62" width="25.36" height="4.33" fill="#ffcc00"/>
<rect x="286.50" y="454.62" width="37.74" height="4.33" fill="#ff9900"/>
<rect x="100.80" y="458.35" width="37.74" height="4.33" fill="#ff0000"/>
<rect x="137.94" y="458.35" width="186.30" height="4.33" fill="#ff9900"/>
<rect x="100.80" y="462.07" width="37.74" height="4.33" fill="#ff0000"/>
<rect x="137.94" y="462.07" width="186.30" height="4.33" fill="#ff9900"/>
<rect x="100.80" y="465.80" width="37.74" height="4.33" fill="#ff0000"/>
<rect x="137.94" y="465.80" width="186.30" height="4.33" fill="#ff9900"/>
<rect x="100.80" y="469.53" width="37.74" height="4.33" fill="#ff0000"/>
<rect x="137.94" y="469.53" width="62.50" height="4.33" fill="#ff9900"/>
<rect x="199.84" y="469.53" width="25.36" height="4.33" fill="#ffcc00"/>
<rect x="224.60" y="469.53" width="99.64" height="4.33" fill="#ff9900"/>
<rect x="100.80" y="473.25" width="37.74" height="4.33" fill="#ff0000"/>
<rect x="137.94" y="473.25" width="186.30" height="4.33" fill="#ff9900"/>
<rect x="100.80" y="476.98" width="37.74" height="4.33" fill="#ff0000"/>
<rect x="137.94" y="476.98" width="186.30" height="4.33" fill="#ff9900"/>
<rect x="100.80" y="480.71" width="37.74" height="4.33" fill="#ff0000"/>
<rect x="137.94" y="480.71" width="186.30" height="4.33" fill="#ff9900"/>
<rect x="100.80" y="484.43" width="37.74" height="4.33" fill="#ff0000"/>
<rect x="137.94" y="484.43" width="186.30" height="4.33" fill="#ff9900"/>
<rect x="100.80" y="488.16" width="37.74" height="4.33" fill="#ff0000"/>
<rect x="137.94" y="488.16" width="186.30" height="4.33" fill="#ff9900"/>
<rect x="100.80" y="491.89" width="37.74" height="4.33" fill="#ff0000"/>
<rect x="137.94" y="491.89" width="186.30" height="4.33" fill="#ff9900"/>
<rect x="100.80" y="495.62" width="37.74" height="4.33" fill="#ff0000"/>
<rect x="137.94" y="495.62" width="37.74" height="4.33" fill="#ff9900"/>
<rect x="175.08" y="495.62" width="74.88" height="4.33" fill="#ffcc00"/>
<rect x="249.36" y="495.62" width="12.98" height="4.33" fill="#ff5050"/>
<rect x="261.74" y="495.62" width="62.50" height="4.33" fill="#ff9900"/>
<rect x="100.80" y="499.34" width="50.12" height="4.33" fill="#ff0000"/>
<rect x="150.32" y="499.34" width="25.36" height="4.33" fill="#ff9900"/>
<rect x="175.08" y="499.34" width="12.98" height="4.33" fill="#ffcc00"/>
<rect x="187.46" y="499.34" width="12.98" height="4.33" fill="#ff9900"/>
<rect x="199.84" y="499.34" width="25.36" height="4.33" fill="#ffcc00"/>
<rect x="224.60" y="499.34" width="12.98" height="4.33" fill="#ff9900"/>
<rect x="236.98" y="499.34" width="74.88" height="4.33" fill="#ffcc00"/>
<rect x="311.26" y="499.34" width="12.98" height="4.33" fill="#ff9900"/>
<rect x="100.80" y="503.07" width="37.74" height="4.33" fill="#ff0000"/>
<rect x="137.94" y="503.07" width="25.36" height="4.33" fill="#ff6600"/>
<rect x="162.70" y="503.07" width="87.26" height="4.33" fill="#ff9900"/>
<rect x="249.36" y="503.07" width="74.88" height="4.33" fill="#ffcc00"/>
<rect x="100.80" y="506.80" width="37.74" height="4.33" fill="#ff0000"/>
<rect x="137.94" y="506.80" width="12.98" height="4.33" fill="#ff6600"/>
<rect x="150.32" y="506.80" width="62.50" height="4.33" fill="#ff9900"/>
<rect x="212.22" y="506.80" width="12.98" height="4.33" fill="#ffcc00"/>
<rect x="224.60" y="506.80" width="12.98" height="4.33" fill="#ff9900"/>
<rect x="236.98" y="506.80" width="87.26" height="4.33" fill="#ffcc00"/>
<rect x="100.80" y="510.52" width="37.74" height="4.33" fill="#ff0000"/>
<rect x="137.94" y="510.52" width="12.98" height="4.33" fill="#ff6600"/>
<rect x="150.32" y="510.52" width="112.02" height="4.33" fill="#ff9900"/>
<rect x="261.74" y="510.52" width="62.50" height="4.33" fill="#ffcc00"/>
<rect x="100.80" y="514.25" width="50.12" height="4.33" fill="#ff0000"/>
<rect x="150.32" y="514.25" width="99.64" height="4.33" fill="#ff9900"/>
<rect x="249.36" y="514.25" width="12.98" height="4.33" fill="#ffcc00"/>
<rect x="261.74" y="514.25" width="25.36" height="4.33" fill="#ff9900"/>
<rect x="286.50" y="514.25" width="37.74" height="4.33" fill="#ffcc00"/>
<rect x="100.80" y="517.98" width="25.36" height="4.33" fill="#ff0000"/>
<rect x="125.56" y="517.98" width="12.98" height="4.33" fill="#ff5050"/>
<rect x="137.94" y="517.98" width="12.98" height="4.33" fill="#ff0000"/>
<rect x="150.32" y="517.98" width="99.64" height="4.33" fill="#ff9900"/>
<rect x="249.36" y="517.98" width="74.88" height="4.33" fill="#ffcc00"/>
<rect x="100.80" y="521.70" width="12.98" height="4.33" fill="#ff0000"/>
<rect x="113.18" y="521.70" width="211.06" height="4.33" fill="#ff9900"/>
</g>
<path d="M323.1 94.96h1.4M323.1 98.69h1.4M323.1 102.42h1.4M323.1 106.14h1.4M323.1 109.87h1.4M323.1 113.60h1.4M323.1 117.33h1.4M323.1 121.05h1.4M323.1 124.78h1.4M323.1 128.51h1.4M323.1 132.23h1.4M323.1 135.96h1.4M323.1 139.69h1.4M323.1 143.41h1.4M323.1 147.14h1.4M323.1 150.87h1.4M323.1 154.60h1.4M323.1 158.32h1.4M323.1 162.05h1.4M323.1 165.78h1.4M323.1 169.50h1.4M323.1 173.23h1.4M323.1 176.96h1.4M323.1 180.68h1.4M323.1 184.41h1.4M323.1 188.14h1.4M323.1 191.87h1.4M323.1 195.59h1.4M323.1 199.32h1.4M323.1 203.05h1.4M323.1 206.77h1.4M323.1 210.50h1.4M323.1 214.23h1.4M323.1 217.95h1.4M323.1 221.68h1.4M323.1 225.41h1.4M323.1 229.14h1.4M323.1 232.86h1.4M323.1 236.59h1.4M323.1 240.32h1.4M323.1 244.04h1.4M323.1 247.77h1.4M323.1 251.50h1.4M323.1 255.22h1.4M323.1 258.95h1.4M323.1 262.68h1.4M323.1 266.41h1.4M323.1 270.13h1.4M323.1 273.86h1.4M323.1 277.59h1.4M323.1 281.31h1.4M323.1 285.04h1.4M323.1 288.77h1.4M323.1 292.49h1.4M323.1 296.22h1.4M323.1 299.95h1.4M323.1 303.68h1.4M323.1 307.40h1.4M323.1 311.13h1.4M323.1 314.86h1.4M323.1 318.58h1.4M323.1 322.31h1.4M323.1 326.04h1.4M323.1 329.76h1.4M323.1 333.49h1.4M323.1 337.22h1.4M323.1 340.95h1.4M323.1 344.67h1.4M323.1 348.40h1.4M323.1 352.13h1.4M323.1 355.85h1.4M323.1 359.58h1.4M323.1 363.31h1.4M323.1 367.03h1.4M323.1 370.76h1.4M323.1 374.49h1.4M323.1 378.22h1.4M323.1 381.94h1.4M323.1 385.67h1.4M323.1 389.40h1.4M323.1 393.12h1.4M323.1 396.85h1.4M323.1 400.58h1.4M323.1 404.30h1.4M323.1 408.03h1.4M323.1 411.76h1.4M323.1 415.49h1.4M323.1 419.21h1.4M323.1 422.94h1.4M323.1 426.67h1.4M323.1 430.39h1.4M323.1 434.12h1.4M323.1 437.85h1.4M323.1 441.57h1.4M323.1 445.30h1.4M323.1 449.03h1.4M323.1 452.76h1.4M323.1 456.48h1.4M323.1 460.21h1.4M323.1 463.94h1.4M323.1 467.66h1.4M323.1 471.39h1.4M323.1 475.12h1.4M323.1 478.84h1.4M323.1 482.57h1.4M323.1 486.30h1.4M323.1 490.03h1.4M323.1 493.75h1.4M323.1 497.48h1.4M323.1 501.21h1.4M323.1 504.93h1.4M323.1 508.66h1.4M323.1 512.39h1.4M323.1 516.11h1.4M323.1 519.84h1.4M323.1 523.57h1.4" stroke="#999" stroke-width="0.4" fill="none"/>
<g font-size="3.2" fill="#111" stroke="#111" stroke-width="0.1">
<text transform="rotate(0.4 326.8 96.01)" x="326.8" y="96.01" textLength="17.3" lengthAdjust="spacingAndGlyphs">glycolic acid</text>
<text transform="rotate(0.4 326.8 99.74)" x="326.8" y="99.74" textLength="12.2" lengthAdjust="spacingAndGlyphs">raffinose</text>
<text transform="rotate(0.4 326.8 103.47)" x="326.8" y="103.47" textLength="14.5" lengthAdjust="spacingAndGlyphs">putrescine</text>
<text transform="rotate(0.4 326.8 107.19)" x="326.8" y="107.19" textLength="10.0" lengthAdjust="spacingAndGlyphs">glycine</text>
<text transform="rotate(0.4 326.8 110.92)" x="326.8" y="110.92" textLength="10.8" lengthAdjust="spacingAndGlyphs">psicose</text>
<text transform="rotate(0.4 326.8 114.65)" x="326.8" y="114.65" textLength="22.0" lengthAdjust="spacingAndGlyphs">phosphoric acid</text>
<text transform="rotate(0.4 326.8 118.38)" x="326.8" y="118.38" textLength="16.4" lengthAdjust="spacingAndGlyphs">gentiobiose</text>
<text transform="rotate(0.4 326.8 122.10)" x="326.8" y="122.10" textLength="34.0" lengthAdjust="spacingAndGlyphs">gulonic acid-1,4-lactone</text>
<text transform="rotate(0.4 326.8 125.83)" x="326.8" y="125.83" textLength="15.4" lengthAdjust="spacingAndGlyphs">ferulic acid</text>
<text transform="rotate(0.4 326.8 129.56)" x="326.8" y="129.56" textLength="14.5" lengthAdjust="spacingAndGlyphs">adenosine</text>
<text transform="rotate(0.4 326.8 133.28)" x="326.8" y="133.28" textLength="20.5" lengthAdjust="spacingAndGlyphs">O-acetylserine</text>
<text transform="rotate(0.4 326.8 137.01)" x="326.8" y="137.01" textLength="12.2" lengthAdjust="spacingAndGlyphs">erythritol</text>
<text transform="rotate(0.4 326.8 140.74)" x="326.8" y="140.74" textLength="10.8" lengthAdjust="spacingAndGlyphs">glycerol</text>
<text transform="rotate(0.4 326.8 144.46)" x="326.8" y="144.46" textLength="28.0" lengthAdjust="spacingAndGlyphs">4-aminobutyric acid</text>
<text transform="rotate(0.4 326.8 148.19)" x="326.8" y="148.19" textLength="15.7" lengthAdjust="spacingAndGlyphs">methionine</text>
<text transform="rotate(0.4 326.8 151.92)" x="326.8" y="151.92" textLength="19.6" lengthAdjust="spacingAndGlyphs">nonanoic acid</text>
<text transform="rotate(0.4 326.8 155.65)" x="326.8" y="155.65" textLength="20.0" lengthAdjust="spacingAndGlyphs">beta-sitosterol</text>
<text transform="rotate(0.4 326.8 159.37)" x="326.8" y="159.37" textLength="19.2" lengthAdjust="spacingAndGlyphs">ethanolamine</text>
<text transform="rotate(0.4 326.8 163.10)" x="326.8" y="163.10" textLength="15.0" lengthAdjust="spacingAndGlyphs">oxalic acid</text>
<text transform="rotate(0.4 326.8 166.83)" x="326.8" y="166.83" textLength="20.5" lengthAdjust="spacingAndGlyphs">hydroxylamine</text>
<text transform="rotate(0.4 326.8 170.55)" x="326.8" y="170.55" textLength="15.4" lengthAdjust="spacingAndGlyphs">isomaltose</text>
<text transform="rotate(0.4 326.8 174.28)" x="326.8" y="174.28" textLength="27.0" lengthAdjust="spacingAndGlyphs">2-aminoadipic acid</text>
<text transform="rotate(0.4 326.8 178.01)" x="326.8" y="178.01" textLength="18.7" lengthAdjust="spacingAndGlyphs">ascorbic acid</text>
<text transform="rotate(0.4 326.8 181.73)" x="326.8" y="181.73" textLength="15.7" lengthAdjust="spacingAndGlyphs">cadaverine</text>
<text transform="rotate(0.4 326.8 185.46)" x="326.8" y="185.46" textLength="19.2" lengthAdjust="spacingAndGlyphs">phenylalanine</text>
<text transform="rotate(0.4 326.8 189.19)" x="326.8" y="189.19" textLength="19.2" lengthAdjust="spacingAndGlyphs">gluconic acid</text>
<text transform="rotate(0.4 326.8 192.92)" x="326.8" y="192.92" textLength="15.4" lengthAdjust="spacingAndGlyphs">melezitose</text>
<text transform="rotate(0.4 326.8 196.64)" x="326.8" y="196.64" textLength="17.8" lengthAdjust="spacingAndGlyphs">benzoic acid</text>
<text transform="rotate(0.4 326.8 200.37)" x="326.8" y="200.37" textLength="16.4" lengthAdjust="spacingAndGlyphs">tartaric acid</text>
<text transform="rotate(0.4 326.8 204.10)" x="326.8" y="204.10" textLength="12.2" lengthAdjust="spacingAndGlyphs">tyramine</text>
<text transform="rotate(0.4 326.8 207.82)" x="326.8" y="207.82" textLength="13.1" lengthAdjust="spacingAndGlyphs">spermine</text>
<text transform="rotate(0.4 326.8 211.55)" x="326.8" y="211.55" textLength="12.2" lengthAdjust="spacingAndGlyphs">ornithine</text>
<text transform="rotate(0.4 326.8 215.28)" x="326.8" y="215.28" textLength="15.0" lengthAdjust="spacingAndGlyphs">tryptamine</text>
<text transform="rotate(0.4 326.8 219.00)" x="326.8" y="219.00" textLength="14.3" lengthAdjust="spacingAndGlyphs">isoleucine</text>
<text transform="rotate(0.4 326.8 222.73)" x="326.8" y="222.73" textLength="18.2" lengthAdjust="spacingAndGlyphs">threonic acid</text>
<text transform="rotate(0.4 326.8 226.46)" x="326.8" y="226.46" textLength="22.0" lengthAdjust="spacingAndGlyphs">arabinonic acid</text>
<text transform="rotate(0.4 326.8 230.19)" x="326.8" y="230.19" textLength="23.8" lengthAdjust="spacingAndGlyphs">alpha-tocopherol</text>
<text transform="rotate(0.4 326.8 233.91)" x="326.8" y="233.91" textLength="17.0" lengthAdjust="spacingAndGlyphs">myo-inositol</text>
<text transform="rotate(0.4 326.8 237.64)" x="326.8" y="237.64" textLength="14.0" lengthAdjust="spacingAndGlyphs">lactic acid</text>
<text transform="rotate(0.4 326.8 241.37)" x="326.8" y="241.37" textLength="16.0" lengthAdjust="spacingAndGlyphs">maleic acid</text>
<text transform="rotate(0.4 326.8 245.09)" x="326.8" y="245.09" textLength="15.0" lengthAdjust="spacingAndGlyphs">mucic acid</text>
<text transform="rotate(0.4 326.8 248.82)" x="326.8" y="248.82" textLength="22.7" lengthAdjust="spacingAndGlyphs">cis-aconitic acid</text>
<text transform="rotate(0.4 326.8 252.55)" x="326.8" y="252.55" textLength="7.6" lengthAdjust="spacingAndGlyphs">uracil</text>
<text transform="rotate(0.4 326.8 256.27)" x="326.8" y="256.27" textLength="15.0" lengthAdjust="spacingAndGlyphs">quinic acid</text>
<text transform="rotate(0.4 326.8 260.00)" x="326.8" y="260.00" textLength="15.0" lengthAdjust="spacingAndGlyphs">adipic acid</text>
<text transform="rotate(0.4 326.8 263.73)" x="326.8" y="263.73" textLength="11.2" lengthAdjust="spacingAndGlyphs">sucrose</text>
<text transform="rotate(0.4 326.8 267.46)" x="326.8" y="267.46" textLength="18.7" lengthAdjust="spacingAndGlyphs">nicotinic acid</text>
<text transform="rotate(0.4 326.8 271.18)" x="326.8" y="271.18" textLength="10.8" lengthAdjust="spacingAndGlyphs">glucose</text>
<text transform="rotate(0.4 326.8 274.91)" x="326.8" y="274.91" textLength="13.1" lengthAdjust="spacingAndGlyphs">mannose</text>
<text transform="rotate(0.4 326.8 278.64)" x="326.8" y="278.64" textLength="15.0" lengthAdjust="spacingAndGlyphs">tryptophan</text>
<text transform="rotate(0.4 326.8 282.36)" x="326.8" y="282.36" textLength="12.9" lengthAdjust="spacingAndGlyphs">trehalose</text>
<text transform="rotate(0.4 326.8 286.09)" x="326.8" y="286.09" textLength="21.0" lengthAdjust="spacingAndGlyphs">galactonic acid</text>
<text transform="rotate(0.4 326.8 289.82)" x="326.8" y="289.82" textLength="14.5" lengthAdjust="spacingAndGlyphs">cellobiose</text>
<text transform="rotate(0.4 326.8 293.54)" x="326.8" y="293.54" textLength="16.4" lengthAdjust="spacingAndGlyphs">xylonic acid</text>
<text transform="rotate(0.4 326.8 297.27)" x="326.8" y="297.27" textLength="19.2" lengthAdjust="spacingAndGlyphs">succinic acid</text>
<text transform="rotate(0.4 326.8 301.00)" x="326.8" y="301.00" textLength="15.7" lengthAdjust="spacingAndGlyphs">spermidine</text>
<text transform="rotate(0.4 326.8 304.73)" x="326.8" y="304.73" textLength="23.0" lengthAdjust="spacingAndGlyphs">chlorogenic acid</text>
<text transform="rotate(0.4 326.8 308.45)" x="326.8" y="308.45" textLength="14.3" lengthAdjust="spacingAndGlyphs">tagatose <tspan font-size="2.2" dy="-0.9">a</tspan></text>
<text transform="rotate(0.4 326.8 312.18)" x="326.8" y="312.18" textLength="24.0" lengthAdjust="spacingAndGlyphs">dodecanoic acid <tspan font-size="2.2" dy="-0.9">a</tspan></text>
<text transform="rotate(0.4 326.8 315.91)" x="326.8" y="315.91" textLength="21.3" lengthAdjust="spacingAndGlyphs">citramalic acid <tspan font-size="2.2" dy="-0.9">a</tspan></text>
<text transform="rotate(0.4 326.8 319.63)" x="326.8" y="319.63" textLength="15.7" lengthAdjust="spacingAndGlyphs">arabinose <tspan font-size="2.2" dy="-0.9">a</tspan></text>
<text transform="rotate(0.4 326.8 323.36)" x="326.8" y="323.36" textLength="27.5" lengthAdjust="spacingAndGlyphs">tetradecanoic acid <tspan font-size="2.2" dy="-0.9">a</tspan></text>
<text transform="rotate(0.4 326.8 327.09)" x="326.8" y="327.09" textLength="15.0" lengthAdjust="spacingAndGlyphs">threonine <tspan font-size="2.2" dy="-0.9">a</tspan></text>
<text transform="rotate(0.4 326.8 330.81)" x="326.8" y="330.81" textLength="33.8" lengthAdjust="spacingAndGlyphs">4-hydroxybenzoic acid <tspan font-size="2.2" dy="-0.9">a</tspan></text>
<text transform="rotate(0.4 326.8 334.54)" x="326.8" y="334.54" textLength="12.9" lengthAdjust="spacingAndGlyphs">fructose <tspan font-size="2.2" dy="-0.9">a</tspan></text>
<text transform="rotate(0.4 326.8 338.27)" x="326.8" y="338.27" textLength="29.0" lengthAdjust="spacingAndGlyphs">hexadecanoic acid <tspan font-size="2.2" dy="-0.9">a</tspan></text>
<text transform="rotate(0.4 326.8 342.00)" x="326.8" y="342.00" textLength="29.0" lengthAdjust="spacingAndGlyphs">2-methylmalic acid <tspan font-size="2.2" dy="-0.9">a</tspan></text>
<text transform="rotate(0.4 326.8 345.72)" x="326.8" y="345.72" textLength="19.2" lengthAdjust="spacingAndGlyphs">glyceric acid <tspan font-size="2.2" dy="-0.9">a</tspan></text>
<text transform="rotate(0.4 326.8 349.45)" x="326.8" y="349.45" textLength="19.2" lengthAdjust="spacingAndGlyphs">palmitic acid <tspan font-size="2.2" dy="-0.9">a</tspan></text>
<text transform="rotate(0.4 326.8 353.18)" x="326.8" y="353.18" textLength="27.5" lengthAdjust="spacingAndGlyphs">octadecanoic acid <tspan font-size="2.2" dy="-0.9">a</tspan></text>
<text transform="rotate(0.4 326.8 356.90)" x="326.8" y="356.90" textLength="26.9" lengthAdjust="spacingAndGlyphs">2-oxoglutaric acid <tspan font-size="2.2" dy="-0.9">a</tspan></text>
<text transform="rotate(0.4 326.8 360.63)" x="326.8" y="360.63" textLength="12.9" lengthAdjust="spacingAndGlyphs">sorbose <tspan font-size="2.2" dy="-0.9">a</tspan></text>
<text transform="rotate(0.4 326.8 364.36)" x="326.8" y="364.36" textLength="19.2" lengthAdjust="spacingAndGlyphs">aconitic acid <tspan font-size="2.2" dy="-0.9">a</tspan></text>
<text transform="rotate(0.4 326.8 368.08)" x="326.8" y="368.08" textLength="23.4" lengthAdjust="spacingAndGlyphs">glucuronic acid <tspan font-size="2.2" dy="-0.9">a</tspan></text>
<text transform="rotate(0.4 326.8 371.81)" x="326.8" y="371.81" textLength="19.9" lengthAdjust="spacingAndGlyphs">shikimic acid <tspan font-size="2.2" dy="-0.9">a</tspan></text>
<text transform="rotate(0.4 326.8 375.54)" x="326.8" y="375.54" textLength="27.5" lengthAdjust="spacingAndGlyphs">pyroglutamic acid <tspan font-size="2.2" dy="-0.9">a</tspan></text>
<text transform="rotate(0.4 326.8 379.27)" x="326.8" y="379.27" textLength="31.7" lengthAdjust="spacingAndGlyphs">dehydroascorbic acid <tspan font-size="2.2" dy="-0.9">a</tspan></text>
<text transform="rotate(0.4 326.8 382.99)" x="326.8" y="382.99" textLength="26.9" lengthAdjust="spacingAndGlyphs">trans-sinapic acid <tspan font-size="2.2" dy="-0.9">a</tspan></text>
<text transform="rotate(0.4 326.8 386.72)" x="326.8" y="386.72" textLength="17.3" lengthAdjust="spacingAndGlyphs">maltotriose <tspan font-size="2.2" dy="-0.9">a</tspan></text>
<text transform="rotate(0.4 326.8 390.45)" x="326.8" y="390.45" textLength="14.0" lengthAdjust="spacingAndGlyphs">xanthine <tspan font-size="2.2" dy="-0.9">a</tspan></text>
<text transform="rotate(0.4 326.8 394.17)" x="326.8" y="394.17" textLength="33.0" lengthAdjust="spacingAndGlyphs">2-hydroxyglutaric acid <tspan font-size="2.2" dy="-0.9">a</tspan></text>
<text transform="rotate(0.4 326.8 397.90)" x="326.8" y="397.90" textLength="30.0" lengthAdjust="spacingAndGlyphs">3-caffeoylquinic acid <tspan font-size="2.2" dy="-0.9">a</tspan></text>
<text transform="rotate(0.4 326.8 401.63)" x="326.8" y="401.63" textLength="19.6" lengthAdjust="spacingAndGlyphs">glucosamine <tspan font-size="2.2" dy="-0.9">a</tspan></text>
<text transform="rotate(0.4 326.8 405.35)" x="326.8" y="405.35" textLength="11.7" lengthAdjust="spacingAndGlyphs">leucine <tspan font-size="2.2" dy="-0.9">a</tspan></text>
<text transform="rotate(0.4 326.8 409.08)" x="326.8" y="409.08" textLength="15.7" lengthAdjust="spacingAndGlyphs">dopamine <tspan font-size="2.2" dy="-0.9">a</tspan></text>
<text transform="rotate(0.4 326.8 412.81)" x="326.8" y="412.81" textLength="30.8" lengthAdjust="spacingAndGlyphs">4-caffeoylquinic acid <tspan font-size="2.2" dy="-0.9">a</tspan></text>
<text transform="rotate(0.4 326.8 416.54)" x="326.8" y="416.54" textLength="33.8" lengthAdjust="spacingAndGlyphs">3-phosphoglyceric acid <tspan font-size="2.2" dy="-0.9">a</tspan></text>
<text transform="rotate(0.4 326.8 420.26)" x="326.8" y="420.26" textLength="21.0" lengthAdjust="spacingAndGlyphs">saccharic acid <tspan font-size="2.2" dy="-0.9">a</tspan></text>
<text transform="rotate(0.4 326.8 423.99)" x="326.8" y="423.99" textLength="25.2" lengthAdjust="spacingAndGlyphs">4-hydroxyproline <tspan font-size="2.2" dy="-0.9">a</tspan></text>
<text transform="rotate(0.4 326.8 427.72)" x="326.8" y="427.72" textLength="42.2" lengthAdjust="spacingAndGlyphs">dehydroascorbic acid dimer <tspan font-size="2.2" dy="-0.9">a</tspan></text>
<text transform="rotate(0.4 326.8 431.44)" x="326.8" y="431.44" textLength="21.0" lengthAdjust="spacingAndGlyphs">galactosamine <tspan font-size="2.2" dy="-0.9">a</tspan></text>
<text transform="rotate(0.4 326.8 435.17)" x="326.8" y="435.17" textLength="31.7" lengthAdjust="spacingAndGlyphs">fructose-6-phosphate <tspan font-size="2.2" dy="-0.9">a</tspan></text>
<text transform="rotate(0.4 326.8 438.90)" x="326.8" y="438.90" textLength="17.8" lengthAdjust="spacingAndGlyphs">ribonic acid <tspan font-size="2.2" dy="-0.9">a</tspan></text>
<text transform="rotate(0.4 326.8 442.62)" x="326.8" y="442.62" textLength="19.9" lengthAdjust="spacingAndGlyphs">malonic acid <tspan font-size="2.2" dy="-0.9">a</tspan></text>
<text transform="rotate(0.4 326.8 446.35)" x="326.8" y="446.35" textLength="26.9" lengthAdjust="spacingAndGlyphs">galacturonic acid <tspan font-size="2.2" dy="-0.9">a</tspan></text>
<text transform="rotate(0.4 326.8 450.08)" x="326.8" y="450.08" textLength="17.3" lengthAdjust="spacingAndGlyphs">kaempferol <tspan font-size="2.2" dy="-0.9">a</tspan></text>
<text transform="rotate(0.4 326.8 453.81)" x="326.8" y="453.81" textLength="29.6" lengthAdjust="spacingAndGlyphs">5-caffeoylquinic acid <tspan font-size="2.2" dy="-0.9">a</tspan></text>
<text transform="rotate(0.4 326.8 457.53)" x="326.8" y="457.53" textLength="21.3" lengthAdjust="spacingAndGlyphs">erythronic acid <tspan font-size="2.2" dy="-0.9">a</tspan></text>
<text transform="rotate(0.4 326.8 461.26)" x="326.8" y="461.26" textLength="16.4" lengthAdjust="spacingAndGlyphs">rhamnose <tspan font-size="2.2" dy="-0.9">a</tspan></text>
<text transform="rotate(0.4 326.8 464.99)" x="326.8" y="464.99" textLength="14.3" lengthAdjust="spacingAndGlyphs">agmatine <tspan font-size="2.2" dy="-0.9">a</tspan></text>
<text transform="rotate(0.4 326.8 468.71)" x="326.8" y="468.71" textLength="28.3" lengthAdjust="spacingAndGlyphs">N-acetylglucosamine <tspan font-size="2.2" dy="-0.9">a</tspan></text>
<text transform="rotate(0.4 326.8 472.44)" x="326.8" y="472.44" textLength="36.6" lengthAdjust="spacingAndGlyphs">unknown amine RI 1523 <tspan font-size="2.2" dy="-0.9">a</tspan></text>
<text transform="rotate(0.4 326.8 476.17)" x="326.8" y="476.17" textLength="19.2" lengthAdjust="spacingAndGlyphs">itaconic acid <tspan font-size="2.2" dy="-0.9">a</tspan></text>
<text transform="rotate(0.4 326.8 479.89)" x="326.8" y="479.89" textLength="29.4" lengthAdjust="spacingAndGlyphs">2-isopropylmalic acid <tspan font-size="2.2" dy="-0.9">a</tspan></text>
<text transform="rotate(0.4 326.8 483.62)" x="326.8" y="483.62" textLength="33.6" lengthAdjust="spacingAndGlyphs">4-hydroxycinnamic acid <tspan font-size="2.2" dy="-0.9">a</tspan></text>
<text transform="rotate(0.4 326.8 487.35)" x="326.8" y="487.35" textLength="12.9" lengthAdjust="spacingAndGlyphs">arginine <tspan font-size="2.2" dy="-0.9">a</tspan></text>
<text transform="rotate(0.4 326.8 491.08)" x="326.8" y="491.08" textLength="17.8" lengthAdjust="spacingAndGlyphs">stearic acid <tspan font-size="2.2" dy="-0.9">a</tspan></text>
<text transform="rotate(0.4 326.8 494.80)" x="326.8" y="494.80" textLength="15.7" lengthAdjust="spacingAndGlyphs">glutamate <tspan font-size="2.2" dy="-0.9">a</tspan></text>
<text transform="rotate(0.4 326.8 498.53)" x="326.8" y="498.53" textLength="19.2" lengthAdjust="spacingAndGlyphs">5-oxoproline <tspan font-size="2.2" dy="-0.9">a</tspan></text>
<text transform="rotate(0.4 326.8 502.26)" x="326.8" y="502.26" textLength="10.8" lengthAdjust="spacingAndGlyphs">maltose</text>
<text transform="rotate(0.4 326.8 505.98)" x="326.8" y="505.98" textLength="14.3" lengthAdjust="spacingAndGlyphs">malic acid</text>
<text transform="rotate(0.4 326.8 509.71)" x="326.8" y="509.71" textLength="14.3" lengthAdjust="spacingAndGlyphs">guanidine</text>
<text transform="rotate(0.4 326.8 513.44)" x="326.8" y="513.44" textLength="16.4" lengthAdjust="spacingAndGlyphs">lyxonic acid</text>
<text transform="rotate(0.4 326.8 517.16)" x="326.8" y="517.16" textLength="15.0" lengthAdjust="spacingAndGlyphs">asparagine</text>
<text transform="rotate(0.4 326.8 520.89)" x="326.8" y="520.89" textLength="22.4" lengthAdjust="spacingAndGlyphs">salicylic acid</text>
<text transform="rotate(0.4 326.8 524.62)" x="326.8" y="524.62" textLength="12.2" lengthAdjust="spacingAndGlyphs">mannitol</text>
</g>
<g font-size="6.2" fill="#222" stroke="#222" stroke-width="0.12">
<text transform="translate(108.89 544) rotate(-90)">109-1</text>
<text transform="translate(121.87 544) rotate(-90)">109-2</text>
<text transform="translate(134.25 544) rotate(-90)">109-3</text>
<text transform="translate(146.63 544) rotate(-90)">125-2</text>
<text transform="translate(159.01 544) rotate(-90)">125-1</text>
<text transform="translate(171.39 544) rotate(-90)">125-3</text>
<text transform="translate(183.77 544) rotate(-90)">125-4</text>
<text transform="translate(196.15 544) rotate(-90)">125-5</text>
<text transform="translate(208.53 544) rotate(-90)">125-8</text>
<text transform="translate(220.91 544) rotate(-90)">125-9</text>
<text transform="translate(233.29 544) rotate(-90)">125-6</text>
<text transform="translate(245.67 544) rotate(-90)">125-7</text>
<text transform="translate(258.05 544) rotate(-90)">109-4</text>
<text transform="translate(270.43 544) rotate(-90)">109-8</text>
<text transform="translate(282.81 544) rotate(-90)">109-9</text>
<text transform="translate(295.19 544) rotate(-90)">109-5</text>
<text transform="translate(307.57 544) rotate(-90)">109-6</text>
<text transform="translate(319.95 544) rotate(-90)">109-7</text>
</g>
<g fill="none" stroke="#1a1a1a" stroke-width="0.9">
<path d="M114.8 72.5V9.4H225.8V39.8 M179.4 74.5V39.8H272.6V65.1 M105.6 77.9V72.5H124.6V76.1 M117.7 77.9V76.1H130.2V77.9 M152.5 76.8V74.5H205.6V76.8 M143 77.9V76.8H168.3V77.9 M187.2 75.8H205.6 M200 75.3H206 M256 77.9V65.1H289.1V73 M275.4 76.2V73H303.8V75.2 M268.7 78V76.2H281.2V78 M294.1 78V75.2H312.4V76.7 M307 78V76.7H319.2V78"/>
<path d="M180.8 77.9H193.5 M205.6 77.5H244.3" stroke="#777"/>
<path d="M155 77.4H162 M212.2 77.6H218.8 M231 77.6H237" stroke-width="1.4"/>
<path d="M84.5 425.3H10.1V197.5H70.2 M75.9 141.9H70.2V253H86.4 M88.3 223.8H86.4V281.6H88.3 M86.3 114.1H76.2V169.5H88.4 M88.4 105.4H86.4V122.3H88.4 M88.3 366.2H84.5V484.6H87.8"/>
<path d="M89.2 100V108 M89.2 110V113 M89.2 115V126 M89.2 130V170 M89.3 187V242.5 M89.4 245V358 M89.5 379V517.8" stroke-width="1.3" stroke="#222" stroke-dasharray="7 0.7 4 0.5 11 0.8 5 0.6"/>
<path d="M88.8 171V181" stroke="#999" stroke-width="1.5"/>
<path d="M89 358V374" stroke-width="1.7" stroke="#111"/>
<path d="M87.9 379V490" stroke-width="0.6" stroke="#444"/>
</g>
<g font-size="11.2" fill="#111" stroke="#111" stroke-width="0.2">
<text x="120.6" y="53.8">A</text>
<text x="237.6" y="51.5" textLength="6.9" lengthAdjust="spacingAndGlyphs">B</text>
<text transform="translate(59.5 208.3) rotate(-90) scale(0.86 1)" font-size="12.2">A’</text>
<text transform="translate(67 435.9) rotate(-90) scale(0.84 1)" font-size="12.5">B’</text>
</g>
</svg></body></html>
